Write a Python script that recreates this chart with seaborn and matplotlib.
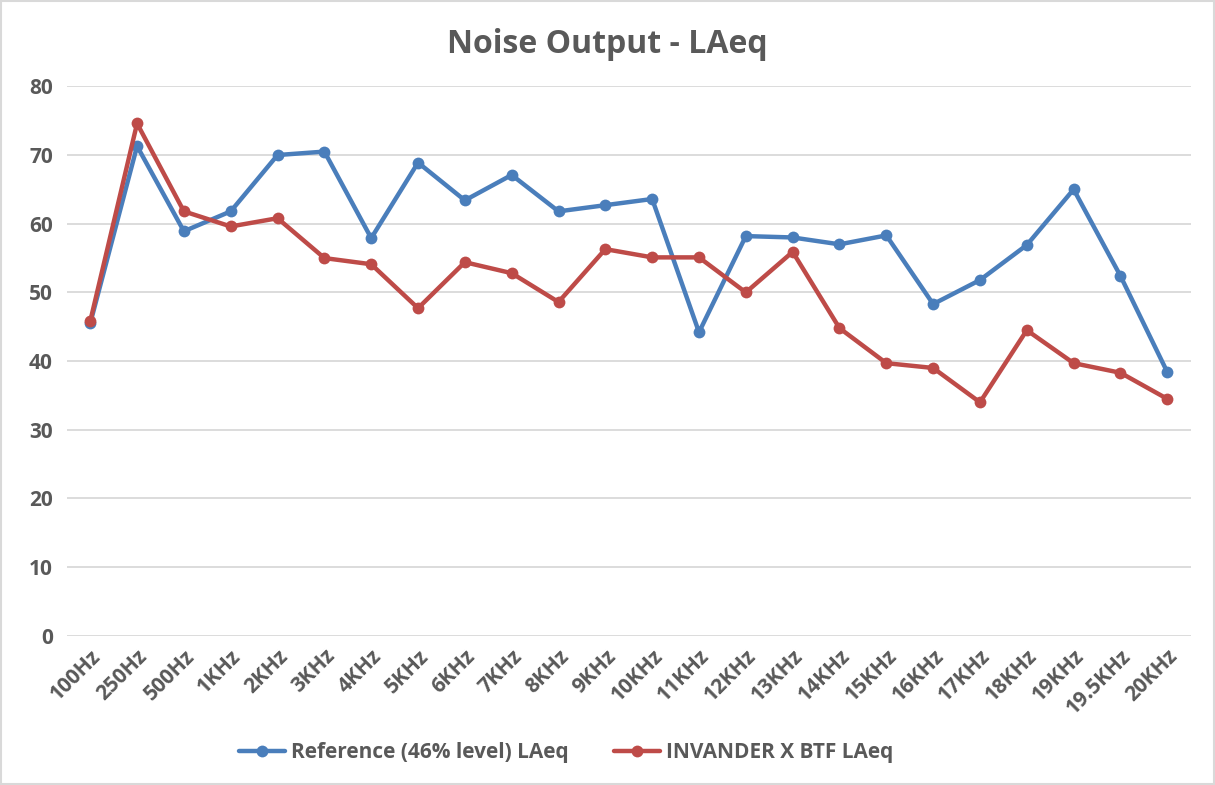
import pandas as pd
import matplotlib.pyplot as plt
import seaborn as sns
from matplotlib.patches import Rectangle

freqs = ["100Hz", "250Hz", "500Hz", "1KHz", "2KHz", "3KHz", "4KHz", "5KHz", "6KHz",
         "7KHz", "8KHz", "9KHz", "10KHz", "11KHz", "12KHz", "13KHz", "14KHz", "15KHz",
         "16KHz", "17KHz", "18KHz", "19KHz", "19.5KHz", "20KHz"]

reference = [45.5, 71.3, 58.9, 61.8, 70.0, 70.5, 57.9, 68.9, 63.4, 67.1, 61.8, 62.7,
             63.6, 44.2, 58.2, 58.0, 57.0, 58.3, 48.3, 51.8, 56.9, 65.0, 52.4, 38.4]
invander = [45.8, 74.6, 61.8, 59.6, 60.8, 55.0, 54.1, 47.7, 54.4, 52.8, 48.6, 56.3,
            55.1, 55.1, 50.0, 55.9, 44.8, 39.7, 39.0, 34.0, 44.5, 39.7, 38.3, 34.5]

series_names = ["Reference (46% level) LAeq", "INVANDER X BTF LAeq"]

df = pd.DataFrame({
    "freq": freqs * 2,
    "value": reference + invander,
    "series": [series_names[0]] * len(freqs) + [series_names[1]] * len(freqs),
})

sns.set_theme(style="white")
plt.rcParams["font.family"] = ["Open Sans", "DejaVu Sans"]
text_color = "#595959"

fig = plt.figure(figsize=(12.15, 7.85), dpi=100)
ax = fig.add_axes([0.055, 0.19, 0.925, 0.70])

sns.lineplot(data=df, x="freq", y="value", hue="series", sort=False,
             palette=["#4A7EBB", "#BE4B48"], marker="o", markersize=8.5,
             markeredgewidth=0, linewidth=3.2, ax=ax)

ax.set_xlim(-0.5, len(freqs) - 0.5)
ax.set_ylim(0, 80)
ax.set_yticks(range(0, 81, 10))
ax.yaxis.grid(True, color="#D9D9D9", linewidth=1.3)
ax.set_axisbelow(True)
for s in ax.spines.values():
    s.set_visible(False)
ax.set_xlabel("")
ax.set_ylabel("")
ax.tick_params(axis="both", length=0, labelsize=15, labelcolor=text_color)
ax.tick_params(axis="y", pad=10)
ax.tick_params(axis="x", pad=7)
for lbl in ax.get_xticklabels():
    lbl.set_rotation(45)
    lbl.set_ha("right")
    lbl.set_rotation_mode("anchor")
    lbl.set_fontweight("bold")
for lbl in ax.get_yticklabels():
    lbl.set_fontweight("bold")

fig.suptitle("Noise Output - LAeq", x=0.5, y=0.943, va="center", fontsize=23,
             fontweight="bold", color=text_color)

handles, labels = ax.get_legend_handles_labels()
ax.get_legend().remove()
leg = fig.legend(handles, labels, loc="center", bbox_to_anchor=(0.466, 0.041), ncol=2,
                 frameon=False, fontsize=15, handlelength=2.2, handletextpad=0.3,
                 columnspacing=2.2)
for t in leg.get_texts():
    t.set_color(text_color)
    t.set_fontweight("bold")

fig.patches.append(Rectangle((0.001, 0.001), 0.998, 0.998, transform=fig.transFigure,
                             fill=False, edgecolor="#D9D9D9", linewidth=1.5))

plt.savefig("out.png", dpi=100)
